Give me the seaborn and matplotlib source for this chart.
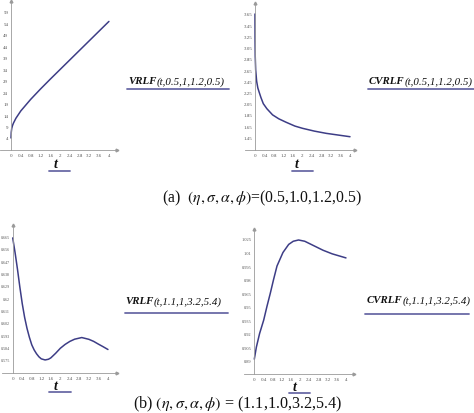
import numpy as np
import pandas as pd
import matplotlib
matplotlib.use("Agg")
import matplotlib.pyplot as plt
from matplotlib.lines import Line2D
import seaborn as sns

# ---------------- data ----------------
t_a1 = [0, 0.01, 0.03, 0.06, 0.1, 0.2, 0.4, 0.8, 1.2, 1.6, 2.0, 2.4, 2.8, 3.2, 3.6, 4.0]
vrlf_a = [4.0, 6.5, 8.2, 9.4, 10.5, 12.6, 15.8, 20.8, 25.3, 29.6, 33.8, 38.0, 42.2, 46.4, 50.6, 54.8]

t_a2 = [0, 0.003, 0.01, 0.03, 0.07, 0.12, 0.18, 0.25, 0.35, 0.5, 0.74, 1.0, 1.3, 1.68, 2.0, 2.5, 3.0, 3.5, 4.0]
cvrlf_a = [3.65, 3.2, 2.9, 2.65, 2.45, 2.33, 2.25, 2.16, 2.05, 1.96, 1.85, 1.78, 1.72, 1.65, 1.61, 1.56, 1.52, 1.49, 1.46]

t_b1 = [0, 0.1, 0.2, 0.3, 0.4, 0.5, 0.6, 0.7, 0.8, 0.9, 1.0, 1.1, 1.2, 1.36, 1.5, 1.6, 1.8,
        2.0, 2.2, 2.4, 2.6, 2.9, 3.2, 3.4, 3.6, 3.8, 4.0]
vrlf_b = [0.6638, 0.653, 0.641, 0.628, 0.616, 0.606, 0.598, 0.5915, 0.586, 0.5823, 0.5795,
          0.5773, 0.5758, 0.5750, 0.5755, 0.5765, 0.5798, 0.5835, 0.5863, 0.5885, 0.5901,
          0.5913, 0.5900, 0.5885, 0.5865, 0.5846, 0.5826]

t_b2 = [0, 0.09, 0.23, 0.41, 0.55, 0.7, 0.84, 0.99, 1.25, 1.5, 1.7, 1.93, 2.2, 2.6, 3.0, 3.4, 3.8, 4.0]
cvrlf_b = [0.8916, 0.905, 0.92, 0.935, 0.95, 0.965, 0.98, 0.995, 1.01, 1.019, 1.0225, 1.0239,
           1.0225, 1.0175, 1.0125, 1.0085, 1.0055, 1.004]

x_ticks = [0, 0.4, 0.8, 1.2, 1.6, 2, 2.4, 2.8, 3.2, 3.6, 4]
x_tick_labels = ["0", "0.4", "0.8", "1.2", "1.6", "2", "2.4", "2.8", "3.2", "3.6", "4"]
y_ticks_a1 = [4, 9, 14, 19, 24, 29, 34, 39, 44, 49, 54, 59]
y_ticks_a2 = [1.45, 1.65, 1.85, 2.05, 2.25, 2.45, 2.65, 2.85, 3.05, 3.25, 3.45, 3.65]
y_ticks_b1 = [0.575, 0.584, 0.593, 0.602, 0.611, 0.62, 0.629, 0.638, 0.647, 0.656, 0.665]
y_ticks_b2 = [0.89, 0.905, 0.92, 0.935, 0.95, 0.965, 0.98, 0.995, 1.01, 1.025]

labels = ["VRLF(t,0.5,1,1.2,0.5)", "CVRLF(t,0.5,1,1.2,0.5)",
          "VRLF(t,1.1,1,3.2,5.4)", "CVRLF(t,1.1,1,3.2,5.4)"]
caption_a = r"(a)  $(\eta,\sigma,\alpha,\phi)$=(0.5,1.0,1.2,0.5)"
caption_b = r"(b) $(\eta,\sigma,\alpha,\phi)$ = (1.1,1.0,3.2,5.4)"

# ---------------- style ----------------
sns.set_style("white")
plt.rcParams["font.family"] = ["Liberation Serif", "DejaVu Serif"]
plt.rcParams["mathtext.fontset"] = "stix"

W, H = 474, 414
fig = plt.figure(figsize=(W / 100, H / 100), dpi=100)
fig.patch.set_facecolor("white")

LINE = "#3d3d86"
ULINE = "#6a6aa6"
AXC = "#9a9a9a"


def rect(x0, y_top, x1, y_bot):
    return [x0 / W, 1 - y_bot / H, (x1 - x0) / W, (y_bot - y_top) / H]


def fp(x, y):
    return (x / W, 1 - y / H)


def make_panel(r, xlim, ylim, t, v, yticks, fmt, ysize=3.6):
    ax = fig.add_axes(r)
    ax.patch.set_alpha(0)
    df = pd.DataFrame({"t": t, "v": v})
    sns.lineplot(data=df, x="t", y="v", ax=ax, color=LINE, lw=1.1, sort=False)
    ax.set_xlim(*xlim)
    ax.set_ylim(*ylim)
    ax.set_xlabel("")
    ax.set_ylabel("")
    for s in ("top", "right"):
        ax.spines[s].set_visible(False)
    ax.spines["left"].set_position(("data", 0))
    for s in ("left", "bottom"):
        ax.spines[s].set_color(AXC)
        ax.spines[s].set_linewidth(0.6)
    ax.set_xticks(x_ticks)
    ax.set_xticklabels(x_tick_labels)
    ax.set_yticks(yticks)
    ax.set_yticklabels([fmt(y) for y in yticks])
    ax.tick_params(axis="both", direction="out", length=1.2, width=0.5, color=AXC,
                   labelsize=3.6, labelcolor="#555555", pad=1.2)
    ax.tick_params(axis="y", labelsize=ysize, pad=0.8)
    ax.grid(False)
    # arrow heads on the axes
    ax.plot(1, ylim[0], marker=">", ms=2, color=AXC, transform=ax.get_yaxis_transform(), clip_on=False)
    ax.plot(0, 1, marker="^", ms=2, color=AXC, transform=ax.get_xaxis_transform(), clip_on=False)
    return ax


def g(y):
    return ("%g" % y)


make_panel(rect(0, 2, 117, 151), (-0.45, 4.33), (-1.23, 63.7), t_a1, vrlf_a, y_ticks_a1, g)
make_panel(rect(245, 4, 355, 151), (-0.42, 4.21), (1.223, 3.846), t_a2, cvrlf_a, y_ticks_a2, lambda y: "%.2f" % y)
make_panel(rect(2, 226, 117, 374), (-0.45, 4.38), (0.5655, 0.6732), t_b1, vrlf_b, y_ticks_b1, g, ysize=3.0)
make_panel(rect(244, 230, 354, 375), (-0.45, 4.35), (0.8751, 1.0361), t_b2, cvrlf_b, y_ticks_b2, g, ysize=3.2)

# function labels with underline
lab_pos = [(128, 82, 127, 229, 90), (369, 82, 368, 474, 90),
           (125, 302, 125, 228, 314), (367, 301, 365, 469, 315)]
for txt, (x, y, u0, u1, uy) in zip(labels, lab_pos):
    name, rest = txt.split("(", 1)
    tt = fig.text(*fp(x, y), name, fontsize=7.8, fontstyle="italic", fontweight="bold",
                  va="center", ha="left", color="#111111")
    fig.canvas.draw()
    bb = tt.get_window_extent()
    fig.text(bb.x1 / fig.dpi / fig.get_figwidth(), 1 - y / H, "(" + rest, fontsize=7.8,
             fontstyle="italic", va="center", ha="left", color="#111111")
    fig.add_artist(Line2D([u0 / W, u1 / W], [1 - uy / H] * 2, color=ULINE, lw=1.3))

# axis "t" labels with underline
t_pos = [(56, 165, 49, 70, 172), (297, 165, 292, 313, 172),
         (56, 387, 49, 71, 393), (295, 388, 289, 310, 394)]
for (x, y, u0, u1, uy) in t_pos:
    fig.text(*fp(x, y), "t", fontsize=10, fontstyle="italic", fontweight="bold",
             ha="center", va="center", color="#111111")
    fig.add_artist(Line2D([u0 / W, u1 / W], [1 - uy / H] * 2, color=ULINE, lw=1.3))

fig.text(*fp(262, 198), caption_a, fontsize=11.3, ha="center", va="center", color="#111111")
fig.text(*fp(238, 404), caption_b, fontsize=11.6, ha="center", va="center", color="#111111")

fig.savefig("out.png", dpi=100, facecolor="white")
